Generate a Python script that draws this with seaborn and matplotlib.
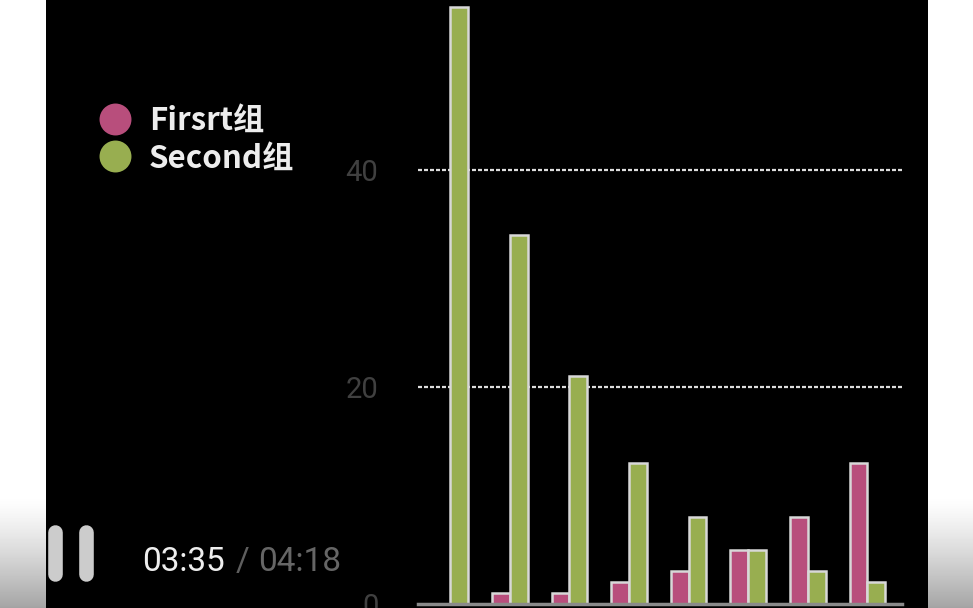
import numpy as np
import pandas as pd
import matplotlib
matplotlib.use("Agg")
import matplotlib.pyplot as plt
from matplotlib.lines import Line2D
import seaborn as sns

# data
groups = ["a", "b", "c", "d", "e", "f", "g", "h"]
first_values = [0, 1, 1, 2, 3, 5, 8, 13]
second_values = [55, 34, 21, 13, 8, 5, 3, 2]
series_names = ["Firsrt组", "Second组"]
y_ticks = [0, 20, 40]
elapsed = "03:35"
total = "04:18"

W, H = 973, 608
PINK, GREEN = "#B84E7C", "#98AE50"

sns.set_theme(style="white")
plt.rcParams["font.family"] = ["Noto Sans CJK SC", "DejaVu Sans"]

fig = plt.figure(figsize=(W / 100, H / 100), dpi=100, facecolor="white")

# backdrop, in pixel coordinates of the video frame
bg = fig.add_axes([0, 0, 1, 1], zorder=0)
bg.set_xlim(0, W)
bg.set_ylim(H, 0)
bg.axis("off")
shade = np.clip((np.arange(H) - 495) / (H - 495), 0, 1)[:, None]
bg.imshow(1 - 0.36 * shade ** 1.3, cmap="gray", vmin=0, vmax=1,
          extent=(0, W, H, 0), aspect="auto", zorder=0)
bg.axvspan(46, 928, color="black", zorder=1, lw=0)
bg.plot([55, 55], [532, 574], color="#CCCCCC", lw=10.5, solid_capstyle="round", zorder=2)
bg.plot([86, 86], [532, 574], color="#CCCCCC", lw=10.5, solid_capstyle="round", zorder=2)
bg.text(142, 562, elapsed, color="#EEEEEE", fontsize=24, family="Roboto", va="center", ha="left", zorder=3)
bg.text(236, 562, "/", color="#5E5E5E", fontsize=24, family="Roboto", va="center", ha="left", zorder=3)
bg.text(258, 562, total, color="#666666", fontsize=24, family="Roboto", va="center", ha="left", zorder=3)

# chart
ax = fig.add_axes([418 / W, (H - 604) / H, (902 - 418) / W, 604 / H], zorder=1)
ax.patch.set_alpha(0)

df = pd.DataFrame({
    "group": groups * 2,
    "value": first_values + second_values,
    "series": [series_names[0]] * len(groups) + [series_names[1]] * len(groups),
})
sns.barplot(data=df, x="group", y="value", hue="series", hue_order=series_names,
            palette=[PINK, GREEN], width=0.6, gap=0, saturation=1,
            edgecolor="#D8D8D8", linewidth=1.8, ax=ax, legend=False, zorder=3)

ax.set_xlim(-0.54, 7.58)
ax.set_ylim(0, 604 / 10.85)
ax.set_xlabel("")
ax.set_ylabel("")
ax.set_xticks([])
ax.set_yticks(y_ticks)
ax.tick_params(axis="y", length=0, pad=28.5, labelsize=21, labelcolor="#404040")
for lab in ax.get_yticklabels():
    lab.set_family("Roboto")
ax.grid(False)
for y in y_ticks[1:]:
    ax.axhline(y, color="#DDDDDD", lw=1.6, ls=(0, (1.8, 0.9)), zorder=2)
for side in ["top", "left", "right"]:
    ax.spines[side].set_visible(False)
ax.spines["bottom"].set_color("#8A8A8A")
ax.spines["bottom"].set_linewidth(2.5)
ax.spines["bottom"].set_zorder(5)

# legend with round keys
handles = [Line2D([], [], ls="", marker="o", ms=23, color=c, mew=0) for c in (PINK, GREEN)]
leg = fig.legend(handles, series_names, loc="upper left",
                 bbox_to_anchor=(92 / W, 1 - 105 / H), bbox_transform=fig.transFigure,
                 frameon=False, labelcolor="#EDEDED", handletextpad=0.32,
                 labelspacing=0.17, borderpad=0, borderaxespad=0, handlelength=1.5,
                 prop={"family": ["Noto Sans CJK SC", "DejaVu Sans"], "size": 22.5, "weight": "bold"})
leg.set_zorder(5)

fig.savefig("out.png", dpi=100, facecolor=fig.get_facecolor())
